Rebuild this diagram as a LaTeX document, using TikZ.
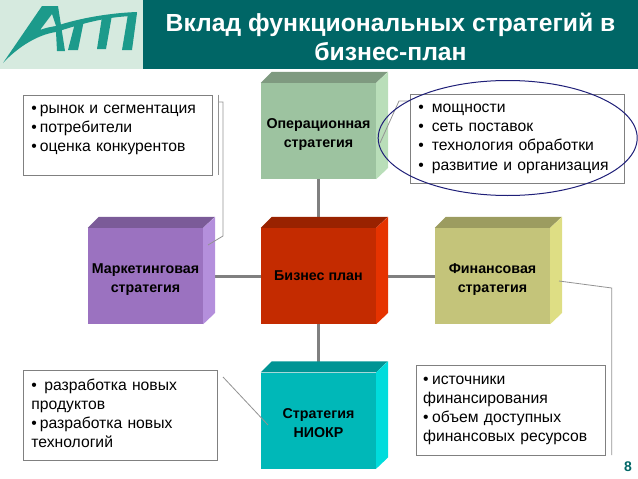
\documentclass[tikz,border=0pt]{standalone}
\usepackage{fontspec}
\setmainfont{Liberation Sans}
\usetikzlibrary{backgrounds,shapes.geometric}
\definecolor{headteal}{HTML}{006666}
\definecolor{headpale}{HTML}{D6EADF}
\definecolor{logoteal}{HTML}{1C9A8B}
\definecolor{linkgrey}{HTML}{808080}
\definecolor{ringblue}{HTML}{1F1F78}
\definecolor{operfront}{HTML}{9DC3A0}
\definecolor{opertop}{HTML}{7F9A80}
\definecolor{operside}{HTML}{B9DEB9}
\definecolor{markfront}{HTML}{9B72C0}
\definecolor{marktop}{HTML}{7B5B98}
\definecolor{markside}{HTML}{B48FDC}
\definecolor{bizfront}{HTML}{C42B00}
\definecolor{biztop}{HTML}{992200}
\definecolor{bizside}{HTML}{E63300}
\definecolor{finfront}{HTML}{C4C47A}
\definecolor{fintop}{HTML}{9C9C60}
\definecolor{finside}{HTML}{DEDE84}
\definecolor{rndfront}{HTML}{00B8B8}
\definecolor{rndtop}{HTML}{009494}
\definecolor{rndside}{HTML}{00DCDC}
\tikzset{
  cube/.style={rectangle,inner sep=0pt,minimum width=115pt,minimum height=96pt,align=center,
    font=\fontsize{14.25}{19}\selectfont\bfseries},
  txtbox/.style={rectangle,draw=linkgrey,line width=0.8pt,fill=white,anchor=north west,align=left,
    inner xsep=8.5pt,inner ysep=0pt,font=\fontsize{15.7}{19.2}\selectfont},
  link/.style={draw=linkgrey,line width=3pt},
  callout/.style={draw=linkgrey!85,line width=0.8pt}
}
% top and side faces of a block
\newcommand{\cubefaces}[1]{
  \fill[#1top] (#1.north west) -- ++(11,-11) -- ++(116,0) -- (#1.north east) -- cycle;
  \fill[#1side] (#1.north east) -- ++(12,-11) -- ++(0,96) -- (#1.south east) -- cycle;
}
\newcommand{\lift}{\rule{0pt}{16pt}}
\newcommand{\bul}[1][8.5pt]{\makebox[#1][l]{•}}
\begin{document}
\begin{tikzpicture}[x=1pt,y=-1pt]
\useasboundingbox (0,0) rectangle (638,479);
% header
\fill[headpale] (0,0) rectangle (143,68.5);
\fill[headteal] (143,0) rectangle (638,68.5);
\node (title) [text=white,align=center,font=\fontsize{24.7}{29.5}\selectfont\bfseries] at (390.5,37)
  {Вклад функциональных стратегий в\\бизнес-план};
% logo
\fill[logoteal,even odd rule] (3,63) -- (42,6) -- (58,6) -- (65,51) -- (57,51) -- (56,32)
  .. controls (35,35) and (15,50) .. (3,63)
  (40,30) -- (52,14) -- (56,26) .. controls (50,27) and (45,28) .. (40,30);
\fill[logoteal] (56,26) .. controls (80,18) and (110,13) .. (137,12) -- (136,16)
  .. controls (105,16) and (75,26) .. (56,32) -- cycle;
\fill[logoteal] (68,50) -- (78,50) -- (84,20) -- (75,23) -- cycle;
\fill[logoteal] (97,49) -- (106,49) -- (112,15) -- (102,17) -- cycle;
\fill[logoteal] (122,50) -- (132,50) -- (137,13) -- (128,14) -- cycle;
% blocks
\node (oper) [cube,fill=operfront] at (318.5,131) {\lift Операционная\\стратегия};
\node (mark) [cube,fill=markfront] at (145.5,276) {\lift Маркетинговая\\стратегия};
\node (biz) [cube,fill=bizfront] at (318.5,276) {Бизнес план};
\node (fin) [cube,fill=finfront] at (492.5,276) {\lift Финансовая\\стратегия};
\node (rnd) [cube,fill=rndfront] at (318.5,420.5) {\lift Стратегия\\НИОКР};
\cubefaces{oper}
\cubefaces{mark}
\cubefaces{biz}
\cubefaces{fin}
\cubefaces{rnd}
\begin{scope}[on background layer]
\draw[link] (biz) -- (oper);
\draw[link] (biz) -- (rnd);
\draw[link] (biz) -- (mark);
\draw[link] (biz) -- (fin);
\end{scope}
% text boxes
\node (markbox) [txtbox,text width=172.5pt,minimum height=80.5pt] at (22.5,94.5)
  {\bul рынок и сегментация\\\bul потребители\\\bul оценка конкурентов\\[-6pt]\mbox{}};
\node (operbox) [txtbox,text width=197.5pt,minimum height=89.5pt] at (409.5,93.5)
  {\bul[13.5pt]мощности\\\bul[13.5pt]сеть поставок\\
   \bul[13.5pt]технология обработки\\\bul[13.5pt]развитие и организация};
\node (rndbox) [txtbox,text width=177.5pt,minimum height=90.5pt] at (22.5,369.5)
  {\bul[13pt]разработка новых\\продуктов\\\bul разработка новых\\технологий\rule[-4pt]{0pt}{0pt}};
\node (finbox) [txtbox,text width=175.5pt,minimum height=90pt,inner xsep=7pt] at (415.7,365)
  {\bul[9pt]источники\\финансирования\\\bul[9pt]объем доступных\\финансовых ресурсов};
% callouts
\coordinate (m1) at (218.5,94.5);
\coordinate (m2) at (218.5,175);
\coordinate (m3) at (218.5,102);
\coordinate (m4) at (223,102);
\coordinate (m5) at (223,236);
\coordinate (m6) at (208,245);
\draw[callout] (m1) -- (m2);
\draw[callout] (m3) -- (m4) -- (m5) -- (m6);
\coordinate (o1) at (399,101);
\coordinate (o2) at (380,143);
\draw[callout] (operbox.west |- o1) -- (o1) -- (o2);
\coordinate (f1) at (559,281);
\coordinate (f2) at (611.7,288);
\coordinate (f3) at (611.7,455);
\draw[callout] (f1) -- (f2) -- (f3);
\coordinate (r1) at (223,377);
\coordinate (r2) at (268,425);
\draw[callout] (r1) -- (r2);
% ring and page number
\node (ring) [ellipse,draw=ringblue,line width=1pt,minimum width=259pt,minimum height=115pt,inner sep=0pt] at (507.7,138) {};
\node (pageno) [text=headteal,font=\fontsize{14}{16}\selectfont\bfseries] at (628,466.5) {8};
\end{tikzpicture}
\end{document}
